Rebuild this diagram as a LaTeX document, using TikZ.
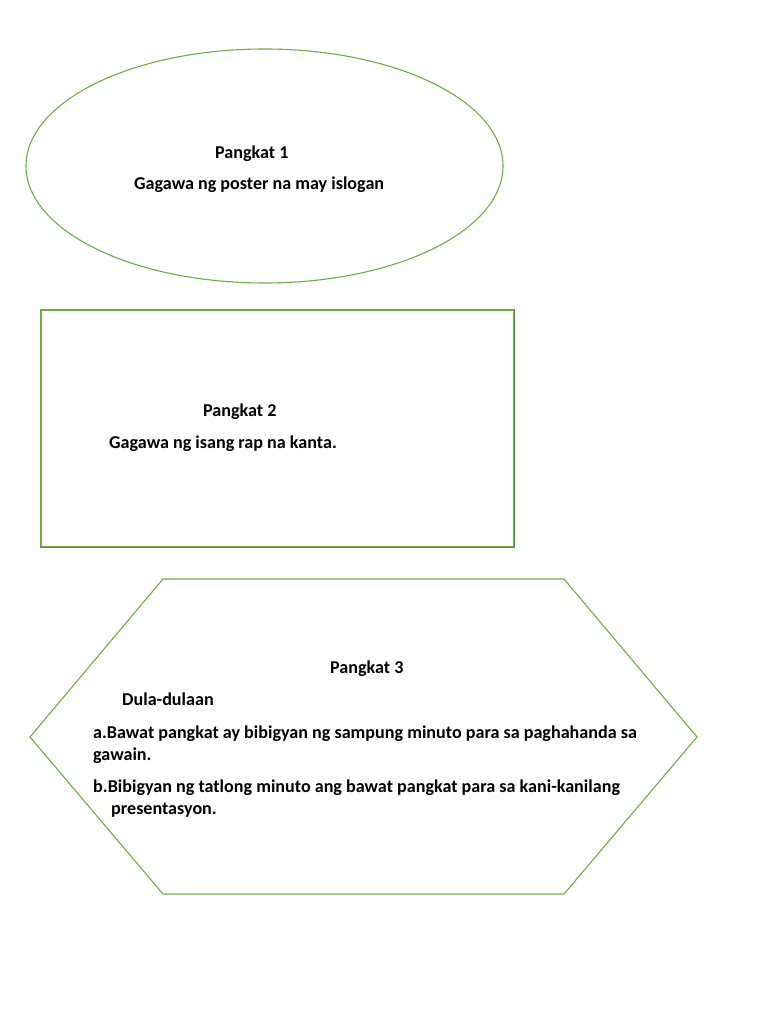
\documentclass[tikz,border=0pt]{standalone}
\usepackage{fontspec}
\setmainfont{Carlito}
\usetikzlibrary{shapes.geometric}
\definecolor{shapegreen}{RGB}{112,173,71}
\definecolor{shadegreen}{RGB}{84,150,50}
\begin{document}
\begin{tikzpicture}[x=1pt,y=-1pt,
  lbl/.style={anchor=base west,inner sep=0pt,font=\fontsize{18.1}{21}\selectfont\bfseries},
  outline/.style={draw=shapegreen,line width=1.1pt}]
\useasboundingbox[fill=white] (0,0) rectangle (768,1024);
% ellipse
\node[outline,ellipse,minimum width=477pt,minimum height=234pt,inner sep=0pt] (ell) at (264.5,166) {};
% rectangle with shadow edges
\node[outline,rectangle,minimum width=473pt,minimum height=237pt,inner sep=0pt] (box) at (277.5,428.5) {};
\draw[shadegreen,line width=1.8pt] (box.north east) -- (box.south east) -- (box.south west);
% hexagon
\coordinate (h1) at (163,579);
\coordinate (h2) at (564,579);
\coordinate (h3) at (697,737);
\coordinate (h4) at (564,894);
\coordinate (h5) at (163,894);
\coordinate (h6) at (30,737);
\draw[outline] (h1) -- (h2) -- (h3) -- (h4) -- (h5) -- (h6) -- cycle;
% texts
\node[lbl] (t1) at (215,159) {Pangkat 1};
\node[lbl] (t2) at (134,190) {Gagawa ng poster na may islogan};
\node[lbl] (t3) at (203,416) {Pangkat 2};
\node[lbl] (t4) at (109,448) {Gagawa ng isang rap na kanta.};
\node[lbl] (t5) at (330,673) {Pangkat 3};
\node[lbl] (t6) at (122,705) {Dula-dulaan};
\node[lbl] (t7) at (93,738) {a.Bawat pangkat ay bibigyan ng sampung minuto para sa paghahanda sa};
\node[lbl] (t8) at (93,760) {gawain.};
\node[lbl] (t9) at (93,792) {b.Bibigyan ng tatlong minuto ang bawat pangkat para sa kani-kanilang};
\node[lbl] (t10) at (111,814) {presentasyon.};
\end{tikzpicture}
\end{document}
